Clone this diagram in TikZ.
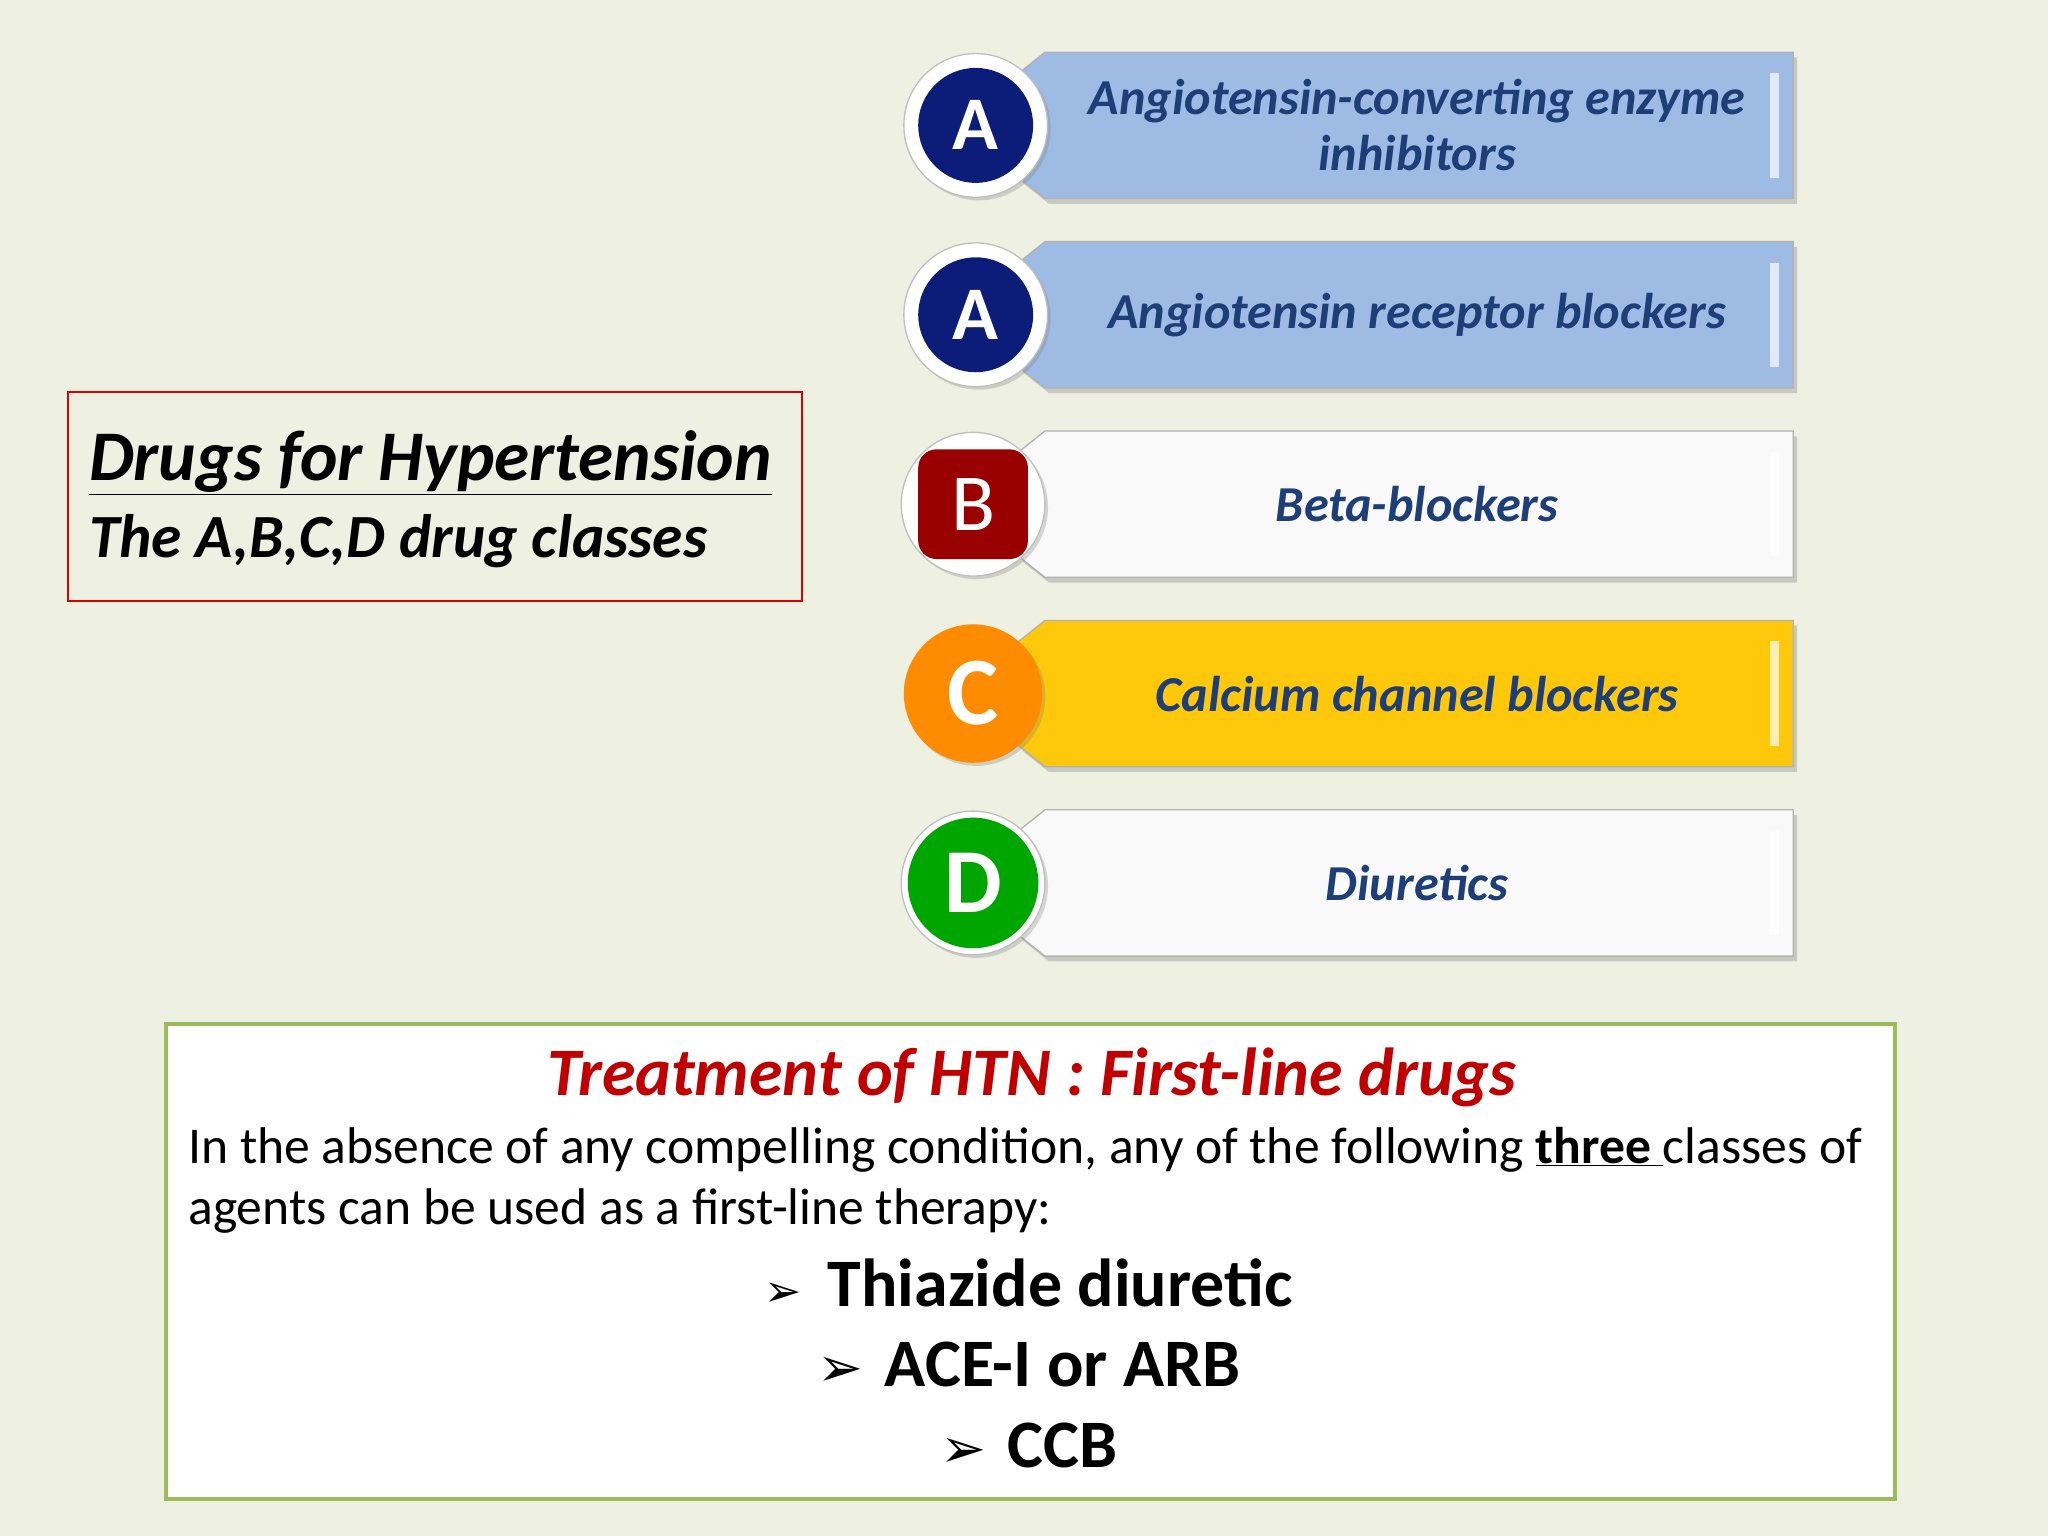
\documentclass[tikz,border=0pt]{standalone}
\usepackage{fontspec}
\setmainfont{Carlito}
\newfontfamily\djv{DejaVu Sans}
\usetikzlibrary{shadows}
\definecolor{bg}{HTML}{EEF0E1}
\definecolor{navy}{HTML}{0B1D78}
\definecolor{txtblue}{HTML}{1E3E78}
\definecolor{barblue}{HTML}{9DBBE3}
\definecolor{baryel}{HTML}{FFC80A}
\definecolor{hred}{HTML}{C00000}
\definecolor{gbord}{HTML}{9BBB59}
\tikzset{
 bar/.style={draw=gray!60,line width=1pt,drop shadow={shadow xshift=3pt,shadow yshift=-4pt,opacity=.35}},
 bartext/.style={text=txtblue,font=\fontsize{38.5}{43}\selectfont\bfseries\itshape,align=center},
 ring/.style={circle,minimum size=110pt,draw=gray!50,line width=1pt,fill=white,drop shadow={opacity=.3}},
 badge/.style={circle,minimum size=88pt,text=white,font=\fontsize{58}{58}\selectfont\bfseries}
}
\begin{document}
\begin{tikzpicture}[x=1pt,y=-1pt]
\fill[bg] (0,0) rectangle (1568,1176);
\useasboundingbox (0,0) rectangle (1568,1176);
% title box
\node[draw=red!85!black,line width=1.2pt,minimum width=562pt,minimum height=160pt] (tb) at (333,380) {};
\node[anchor=west,inner sep=0pt,font=\fontsize{54.5}{58}\selectfont\bfseries\itshape] (t1) at (68,354) {\underline{Drugs for Hypertension}};
\node[anchor=west,inner sep=0pt,font=\fontsize{47}{50}\selectfont\bfseries\itshape] (t2) at (68,414) {The A,B,C,D drug classes};
% bars
\foreach \i/\y/\c/\t in {1/96/barblue/{Angiotensin-converting enzyme\\inhibitors},2/241/barblue/{Angiotensin receptor blockers},3/386/white!95!gray/{Beta-blockers},4/531/baryel/{Calcium channel blockers},5/676/white!95!gray/{Diuretics}}{
 \draw[bar,fill=\c] (800,\y-56) -- (1373,\y-56) -- (1373,\y+56) -- (800,\y+56) -- (780,\y+40) -- (780,\y-40) -- cycle;
 \fill[white,opacity=.7] (1355,\y-40) rectangle (1362,\y+40);
 \node[bartext] (bt\i) at (1085,\y) {\t};
}
% badges
\node[ring] (r1) at (747,96) {};
\node[badge,fill=navy] (b1) at (r1) {A};
\node[ring] (r2) at (747,241) {};
\node[badge,fill=navy] (b2) at (r2) {A};
\node[ring] (r3) at (745,386) {};
\node[rounded corners=14pt,minimum size=84pt,fill=red!60!black,text=white,font=\fontsize{62}{62}\selectfont] (b3) at (r3) {B};
\node[circle,minimum size=106pt,fill=orange!90!yellow,text=white,font=\fontsize{74}{74}\selectfont\bfseries,drop shadow={opacity=.3}] (b4) at (745,531) {C};
\node[ring] (r5) at (745,676) {};
\node[badge,minimum size=100pt,fill=green!65!black,font=\fontsize{70}{70}\selectfont\bfseries] (b5) at (r5) {D};
% bottom box
\node[draw=gbord,fill=white,line width=3pt,minimum width=1324pt,minimum height=364pt] (bb) at (789,966) {};
\node[text=hred,font=\fontsize{52}{56}\selectfont\bfseries\itshape] (h) at (790,825) {Treatment of HTN : First-line drugs};
\node[anchor=west,inner sep=0pt,font=\fontsize{39.5}{44}\selectfont] (p1) at (144,880) {In the absence of any compelling condition, any of the following \textbf{\underline{three }}classes of};
\node[anchor=west,inner sep=0pt,font=\fontsize{39.5}{44}\selectfont] (p2) at (144,927) {agents can be used as a first-line therapy:};
\node[anchor=west,inner sep=0pt,font=\fontsize{52}{56}\selectfont\bfseries] (l1) at (585,982) {{\djv\fontsize{34}{36}\selectfont ➢}\hspace{20pt}Thiazide diuretic};
\node[anchor=west,inner sep=0pt,font=\fontsize{52}{56}\selectfont\bfseries] (l2) at (626,1045) {{\djv\fontsize{42}{44}\selectfont ➢}\hspace{16pt}ACE-I or ARB};
\node[anchor=west,inner sep=0pt,font=\fontsize{52}{56}\selectfont\bfseries] (l3) at (720,1107) {{\djv\fontsize{42}{44}\selectfont ➢}\hspace{16pt}CCB};
\end{tikzpicture}
\end{document}
